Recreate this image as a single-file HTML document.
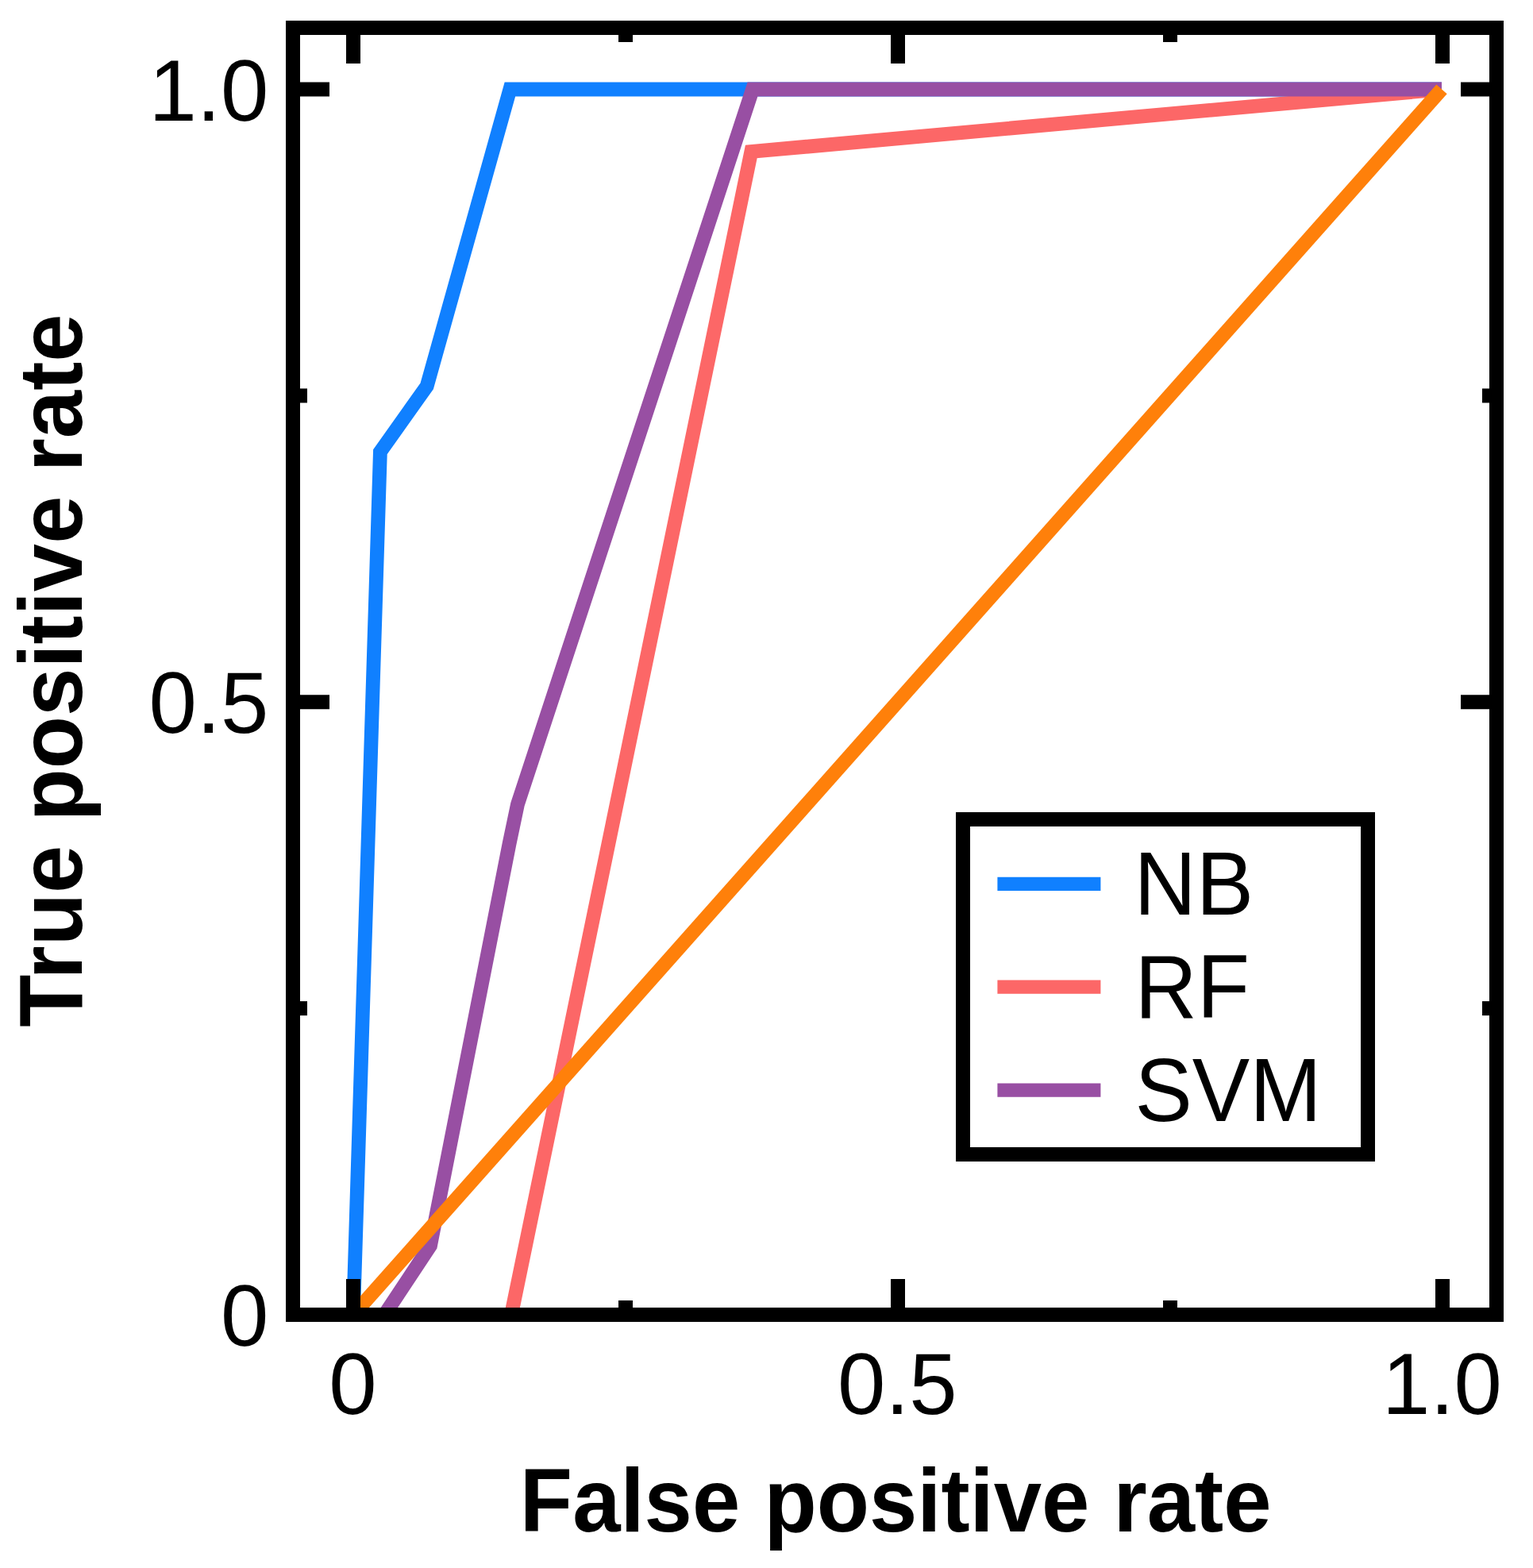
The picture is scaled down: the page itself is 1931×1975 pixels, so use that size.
<!DOCTYPE html>
<html>
<head>
<meta charset="utf-8">
<style>
html,body{margin:0;padding:0;background:#fff;}
body{width:1931px;height:1975px;overflow:hidden;}
svg{display:block;}
.t{font-family:"Liberation Sans",Arial,Helvetica,sans-serif;fill:#000;}
.b{font-weight:bold;}
</style>
</head>
<body>
<svg width="1931" height="1975" viewBox="0 0 1931 1975">
<rect x="0" y="0" width="1931" height="1975" fill="#fff"/>
<!-- data lines -->
<g fill="none" stroke-width="17.8" stroke-linejoin="miter" stroke-miterlimit="10" stroke-linecap="butt">
  <polyline stroke="#1080ff" points="445,1656 478.9,569.1 537.7,486.3 642.4,112.5 1816,112.5"/>
  <polyline stroke="#fc6767" points="644,1656 946.3,191 1816,112.5"/>
  <polyline stroke="#984fa3" points="484.4,1656 542,1569 641.7,1062 652,1013 948,112.5 1816,112.5"/>
  <polyline stroke="#ff800a" points="445,1656 1816,112.3"/>
</g>
<!-- frame -->
<rect x="369" y="35" width="1516" height="1621" fill="none" stroke="#000" stroke-width="18"/>
<!-- ticks -->
<g stroke="#000" stroke-width="18" fill="none">
  <!-- bottom major -->
  <line x1="445" y1="1656" x2="445" y2="1611"/>
  <line x1="1131" y1="1656" x2="1131" y2="1611"/>
  <line x1="1817" y1="1656" x2="1817" y2="1611"/>
  <!-- top major -->
  <line x1="445" y1="35" x2="445" y2="80"/>
  <line x1="1131" y1="35" x2="1131" y2="80"/>
  <line x1="1817" y1="35" x2="1817" y2="80"/>
  <!-- bottom/top minor -->
  <line x1="788" y1="1656" x2="788" y2="1638"/>
  <line x1="1474" y1="1656" x2="1474" y2="1638"/>
  <line x1="788" y1="35" x2="788" y2="53"/>
  <line x1="1474" y1="35" x2="1474" y2="53"/>
  <!-- left major -->
  <line x1="369" y1="112.5" x2="415" y2="112.5"/>
  <line x1="369" y1="884.25" x2="415" y2="884.25"/>
  <!-- right major -->
  <line x1="1885" y1="112.5" x2="1840" y2="112.5"/>
  <line x1="1885" y1="884.25" x2="1840" y2="884.25"/>
  <!-- left/right minor -->
  <line x1="369" y1="498.4" x2="387" y2="498.4"/>
  <line x1="369" y1="1270.1" x2="387" y2="1270.1"/>
  <line x1="1885" y1="498.4" x2="1867" y2="498.4"/>
  <line x1="1885" y1="1270.1" x2="1867" y2="1270.1"/>
</g>
<!-- tick labels -->
<g class="t" font-size="108.5">
  <text x="338.3" y="151.5" text-anchor="end">1.0</text>
  <text x="338.3" y="923.2" text-anchor="end">0.5</text>
  <text x="338.3" y="1695.2" text-anchor="end">0</text>
  <text x="444.3" y="1781.3" text-anchor="middle">0</text>
  <text x="1130.3" y="1781.3" text-anchor="middle">0.5</text>
  <text x="1816.5" y="1781.3" text-anchor="middle">1.0</text>
</g>
<!-- axis titles -->
<text class="t b" font-size="108.5" transform="translate(1128.2,1928.6) scale(1,1.043)" text-anchor="middle">False positive rate</text>
<text class="t b" font-size="108.5" transform="translate(103.2,844.5) rotate(-90) scale(1,1.045)" text-anchor="middle">True positive rate</text>
<!-- legend -->
<rect x="1213" y="1032" width="510" height="422" fill="#fff" stroke="#000" stroke-width="18"/>
<g stroke-width="17.3" fill="none">
  <line x1="1256.4" y1="1113.3" x2="1386.4" y2="1113.3" stroke="#1080ff"/>
  <line x1="1256.4" y1="1243.1" x2="1386.4" y2="1243.1" stroke="#fc6767"/>
  <line x1="1256.4" y1="1373.1" x2="1386.4" y2="1373.1" stroke="#984fa3"/>
</g>
<g class="t" font-size="108.5">
  <text transform="translate(1428.5,1151.8) scale(1,1.045)">NB</text>
  <text transform="translate(1429.5,1281.9) scale(1,1.045)">RF</text>
  <text transform="translate(1429.5,1411.9) scale(1,1.045)">SVM</text>
</g>
</svg>
</body>
</html>
